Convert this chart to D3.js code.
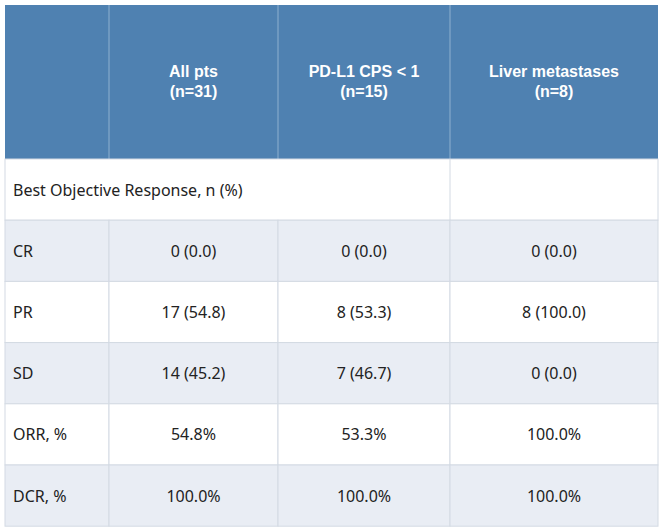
<!DOCTYPE html>
<html><head><meta charset="utf-8">
<script src="https://cdn.jsdelivr.net/npm/d3@7"></script>
<style>body{margin:0;background:#fff}</style>
</head><body><div id="chart"></div>
<script>
var width = 665, height = 532;
var headers = [["", ""], ["All pts", "(n=31)"], ["PD-L1 CPS < 1", "(n=15)"], ["Liver metastases", "(n=8)"]];
var sectionLabel = "Best Objective Response, n (%)";
var rowLabels = ["CR", "PR", "SD", "ORR, %", "DCR, %"];
var allPts = ["0 (0.0)", "17 (54.8)", "14 (45.2)", "54.8%", "100.0%"];
var cpsLow = ["0 (0.0)", "8 (53.3)", "7 (46.7)", "53.3%", "100.0%"];
var liverMets = ["0 (0.0)", "8 (100.0)", "0 (0.0)", "100.0%", "100.0%"];

var colX = [5, 109, 278, 450, 658];
var headTop = 5, headBottom = 159, rowH = 61.2;
var lineCol = "#d3dae3";

var svg = d3.select("#chart").append("svg").attr("width", width).attr("height", height);

// header
svg.append("rect").attr("x", colX[0]).attr("y", headTop)
    .attr("width", colX[4] - colX[0]).attr("height", headBottom - headTop).attr("fill", "#4f81b1");
headers.forEach(function (h, i) {
    if (i > 0) svg.append("line").attr("x1", colX[i]).attr("x2", colX[i]).attr("y1", headTop).attr("y2", headBottom)
        .attr("stroke", "#8fb0cf").attr("stroke-width", 1);
    var cx = (colX[i] + colX[i + 1]) / 2;
    var t = svg.append("text").attr("x", cx).attr("y", 77).attr("text-anchor", "middle")
        .attr("fill", "#fff").style("font", "bold 16px 'Liberation Sans', Arial, sans-serif");
    t.append("tspan").attr("x", cx).text(h[0]);
    t.append("tspan").attr("x", cx).attr("dy", 20).text(h[1]);
});

// section row
var y0 = headBottom;
svg.append("rect").attr("x", colX[0]).attr("y", y0).attr("width", colX[4] - colX[0]).attr("height", rowH)
    .attr("fill", "#fff").attr("stroke", lineCol);
svg.append("line").attr("x1", colX[3]).attr("x2", colX[3]).attr("y1", y0).attr("y2", y0 + rowH).attr("stroke", lineCol);
svg.append("text").attr("x", colX[0] + 8).attr("y", y0 + rowH / 2 + 6)
    .attr("fill", "#222").style("font", "16px 'Noto Sans', 'Open Sans', sans-serif").text(sectionLabel);

var cols = [rowLabels, allPts, cpsLow, liverMets];
rowLabels.forEach(function (r, j) {
    var y = y0 + rowH * (j + 1);
    var fill = j % 2 === 0 ? "#e9edf4" : "#fff";
    cols.forEach(function (c, i) {
        svg.append("rect").attr("x", colX[i]).attr("y", y).attr("width", colX[i + 1] - colX[i]).attr("height", rowH)
            .attr("fill", fill).attr("stroke", lineCol);
        svg.append("text")
            .attr("x", i === 0 ? colX[0] + 8 : (colX[i] + colX[i + 1]) / 2)
            .attr("y", y + rowH / 2 + 6)
            .attr("text-anchor", i === 0 ? "start" : "middle")
            .attr("fill", "#222").style("font", "16px 'Noto Sans', 'Open Sans', sans-serif")
            .text(c[j]);
    });
});
</script></body></html>
